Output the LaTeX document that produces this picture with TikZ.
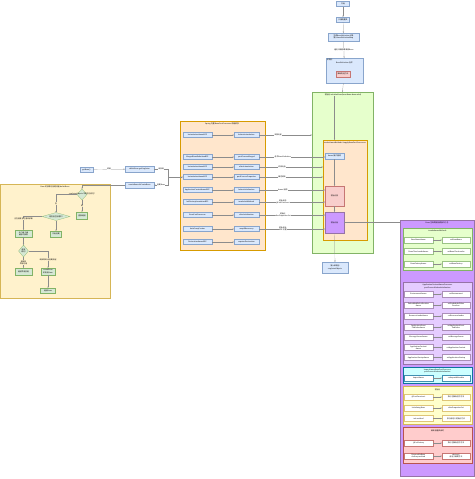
\documentclass[tikz,border=0pt]{standalone}
\usepackage{fontspec}
\setmainfont{Noto Sans CJK SC}
\usetikzlibrary{arrows.meta,shapes.geometric,positioning}

\definecolor{bluef}{HTML}{DAE8FC}
\definecolor{blued}{HTML}{6C8EBF}
\definecolor{orangef}{HTML}{FFE6CC}
\definecolor{oranged}{HTML}{D79B00}
\definecolor{greenf}{HTML}{D5E8D4}
\definecolor{greend}{HTML}{82B366}
\definecolor{limef}{HTML}{E6FFCC}
\definecolor{yellowf}{HTML}{FFF2CC}
\definecolor{yellowd}{HTML}{D6B656}
\definecolor{redf}{HTML}{F8CECC}
\definecolor{redd}{HTML}{B85450}
\definecolor{violetf}{HTML}{CC99FF}
\definecolor{violetd}{HTML}{9673A6}
\definecolor{lavf}{HTML}{E5CCFF}
\definecolor{cyanf}{HTML}{CCFFFF}
\definecolor{cyand}{HTML}{10739E}
\definecolor{lyellowf}{HTML}{FFFFCC}
\definecolor{pinkf}{HTML}{FFCCCC}

\newcommand\diagfont{\fontsize{1.8}{2.2}\selectfont}

\tikzset{
  box/.style={draw=blued!80, fill=bluef, line width=0.2pt, inner sep=0.2pt, align=center, font=\diagfont},
  gbox/.style={box, draw=greend, fill=greenf},
  rbox/.style={box, draw=redd!80, fill=redf},
  vbox/.style={box, draw=violetd, fill=violetf},
  wbox/.style={box, fill=white, draw=#1!80},
  panel/.style={line width=0.25pt, inner sep=0pt},
  conn/.style={draw=black!45, line width=0.2pt},
  arr/.style={conn, -{Stealth[length=1.4pt,width=1.2pt]}},
  lbl/.style={font=\diagfont, inner sep=0.3pt, align=center, fill=white},
  ttl/.style={font=\diagfont, inner sep=0.3pt, align=center},
  dia/.style={diamond, draw=greend, fill=greenf, line width=0.2pt, inner sep=0pt}
}

\begin{document}
\begin{tikzpicture}[x=1pt,y=-1pt]
\useasboundingbox[fill=white] (0,0) rectangle (474,479);

% containers
\node[panel, draw=greend, fill=limef, minimum width=61pt, minimum height=161pt] (greenbox) at (342.5,172.5) {};
\node[panel, draw=oranged, fill=orangef, minimum width=44pt, minimum height=100pt] (orin) at (345,190) {};
\node[panel, draw=oranged, fill=orangef, minimum width=85pt, minimum height=129pt] (bpp) at (222.5,185.5) {};
\node[panel, draw=yellowd, fill=yellowf, minimum width=110pt, minimum height=114pt] (create) at (55,241) {};
\node[panel, draw=violetd, fill=violetf, minimum width=74pt, minimum height=256pt] (ppanel) at (437,348) {};

\node[ttl] (gtitle) at (343,94.5) {初始化 initializeBean(beanName bean mbd)};
\node[ttl] at (345,142.5) {invokeAwareMethods \& applyBeanPostProcessors};
\node[ttl] at (222,123.5) {Spring 内置 BeanPostProcessor 调用顺序};
\node[ttl] at (55,187) {Bean 的获取与创建流程 doGetBean};
\node[ttl] at (437,223) {Bean 生命周期回调接口汇总};

% top chain
\node[box, minimum width=13pt, minimum height=5pt] (start) at (343,4) {开始};
\node[box, minimum width=13pt, minimum height=5pt] (scan) at (343,19.5) {扫描配置类};
\node[box, minimum width=31pt, minimum height=8pt] (parse) at (343.5,37) {生成BeanDefinition对象\\放入beanDefinitionMap};
\node[box, minimum width=37pt, minimum height=25pt] (inst) at (344.5,70.5) {};
\node[ttl, anchor=north west] at (326.5,58.5) {实例化};
\node[ttl] at (344.5,63) {BeanDefinition 合并};
\node[rbox, minimum width=14pt, minimum height=6pt] (ctor) at (343,74) {推断构造方法};

\draw[arr] (start) -- (scan);
\draw[arr] (scan) -- (parse);
\draw[arr] (parse) -- node[lbl] {遍历 非懒加载单例Bean} (inst);
\draw[arr] (inst) -- (greenbox.north);

% initialization steps
\node[box, minimum width=19pt, minimum height=6pt] (aware) at (334.5,156) {Aware 接口回调};
\node[rbox, minimum width=19pt, minimum height=20pt] (before) at (334.5,196) {初始化前};
\node[vbox, minimum width=19pt, minimum height=21pt] (after) at (334.5,222.5) {初始化后};
\node[box, minimum width=26pt, minimum height=11pt] (singleton) at (335,267.5) {放入单例池\\singletonObjects};

\draw[arr] (gtitle.south -| aware) -- (orin.north -| aware);
\draw[arr] (aware) -- (before);
\draw[arr] (before) -- (after);
\draw[arr] (after) -- (singleton);
\draw[conn] (after.east) -- (after.east -| ppanel.west);

% built-in post processors
\foreach \y/\l/\r [count=\i] in {
  135/{InstantiationAwareBPP}/{beforeInstantiation},
  157/{MergedBeanDefinitionBPP}/{postProcessMerged},
  167/{InstantiationAwareBPP}/{afterInstantiation},
  177/{InstantiationAwareBPP}/{postProcessProperties},
  190/{ApplicationContextAwareBPP}/{beforeInitialization},
  202/{InitDestroyAnnotationBPP}/{invokeInitMethods},
  215/{BeanPostProcessor}/{afterInitialization},
  229/{AutoProxyCreator}/{wrapIfNecessary},
  242/{DestructionAwareBPP}/{requiresDestruction}}{
  \node[box, minimum width=29pt, minimum height=5pt] (L\i) at (197.5,\y) {\l};
  \node[box, minimum width=25pt, minimum height=5pt] (R\i) at (246.5,\y) {\r};
  \draw[arr] (L\i) -- (R\i);
}

\foreach \i/\t/\txt in {
  1/greenbox/{实例化前},
  2/aware/{合并BeanDefinition},
  3/orin/{实例化后},
  4/orin/{属性填充},
  5/before/{Aware 回调},
  6/before/{初始化前\\@PostConstruct},
  7/after/{初始化\\afterPropertiesSet},
  8/after/{初始化后\\AOP 代理}}{
  \draw[arr] (R\i) -- node[lbl, pos=0.36] {\txt} (R\i -| \t.west);
}

% getBean entry
\node[box, minimum width=13pt, minimum height=5pt] (getbean) at (86.5,169.5) {getBean()};
\node[box, minimum width=29pt, minimum height=6pt] (doget) at (139.5,169) {doGetBean  getSingleton};
\node[box, minimum width=29pt, minimum height=6pt] (docreate) at (139.5,185) {createBean  doCreateBean};
\coordinate (join) at (168,177);

\draw[arr] (getbean) -- node[lbl] {调用} (doget);
\draw[arr] (doget.east) -- node[lbl, pos=0.5] {未找到} ++(14,0) |- node[lbl, pos=0.75] {创建Bean} (docreate.east);
\draw[arr] (join) -- (L4.west);

% creation flow
\node[dia, minimum width=10pt, minimum height=11pt] (d1) at (82,194.5) {};
\node[ttl] at (82,194.3) {singletonObjects 中是否已存在?};
\node[gbox, minimum width=11pt, minimum height=7pt] (b1) at (82,215.5) {直接返回};
\node[dia, minimum width=28pt, minimum height=8pt] (d2) at (56,216.5) {};
\node[ttl] at (56,216.5) {是否正在创建中?};
\node[gbox, minimum width=11pt, minimum height=6pt] (b2) at (56,234) {开始创建};
\node[gbox, minimum width=17pt, minimum height=7pt] (b3) at (23.5,233.5) {从二级 三级\\缓存中获取};
\node[dia, minimum width=10pt, minimum height=12pt] (d3) at (23.5,251) {};
\node[ttl] at (23.5,251) {获取\\成功?};
\node[gbox, minimum width=17pt, minimum height=7pt] (b4) at (23.5,271.5) {返回早期引用};
\node[gbox, minimum width=14pt, minimum height=7pt] (b5) at (48,271.5) {createBean\\实例化Bean};
\node[gbox, minimum width=15pt, minimum height=5pt] (b6) at (48,290.5) {返回Bean};

\draw[arr] (docreate.west) -| (d1.north);
\draw[arr] (d1) -- node[lbl, fill=yellowf] {是} (b1);
\draw[arr] (d1.west) -| node[lbl, fill=yellowf, pos=0.75] {否} (d2.north);
\draw[arr] (d2) -- (b2);
\draw[arr] (d2.west) -| node[lbl, fill=yellowf, pos=0.6] {正在创建 存在循环依赖} (b3.north);
\draw[arr] (b3) -- (d3);
\draw[arr] (d3) -- node[lbl, fill=yellowf] {获取到\\早期引用} (b4);
\draw[arr] (d3.east) -| node[lbl, fill=yellowf, pos=0.75] {未获取到 走创建流程} (b5.north);
\draw[arr] (b5) -- (b6);

% callback interfaces
\node[panel, draw=greend, fill=limef, minimum width=69pt, minimum height=42pt] (sec1) at (437.5,249) {};
\node[panel, draw=violetd, fill=lavf, minimum width=69pt, minimum height=82pt] (sec2) at (437.5,323) {};
\node[panel, draw=cyand, fill=cyanf, minimum width=69pt, minimum height=16pt] (sec3) at (437.5,375) {};
\node[panel, draw=yellowd, fill=lyellowf, minimum width=69pt, minimum height=38pt] (sec4) at (437.5,405) {};
\node[panel, draw=redd, fill=pinkf, minimum width=69pt, minimum height=36pt] (sec5) at (437.5,445) {};

\node[ttl] at (437.5,231) {invokeAwareMethods};
\node[ttl] at (437.5,286.5) {ApplicationContextAwareProcessor\\postProcessBeforeInitialization};
\node[ttl] at (437.5,371) {ImportAwareBeanPostProcessor\\postProcessBeforeInitialization};
\node[ttl] at (437.5,389.5) {初始化};
\node[ttl] at (437.5,431) {销毁 容器关闭时};

\foreach \y/\l/\r/\c [count=\i] in {
  240/{BeanNameAware}/{setBeanName}/greend,
  251.5/{BeanClassLoaderAware}/{setBeanClassLoader}/greend,
  264/{BeanFactoryAware}/{setBeanFactory}/greend,
  294/{EnvironmentAware}/{setEnvironment}/violetd,
  305/{EmbeddedValueResolver\\Aware}/{setEmbeddedValue\\Resolver}/violetd,
  316/{ResourceLoaderAware}/{setResourceLoader}/violetd,
  327/{ApplicationEvent\\PublisherAware}/{setApplicationEvent\\Publisher}/violetd,
  337.5/{MessageSourceAware}/{setMessageSource}/violetd,
  347.5/{ApplicationContext\\Aware}/{setApplicationContext}/violetd,
  357.5/{ApplicationStartupAware}/{setApplicationStartup}/violetd,
  378/{ImportAware}/{setImportMetadata}/cyand,
  397/{@PostConstruct}/{执行注解标注的方法}/yellowd,
  408/{InitializingBean}/{afterPropertiesSet}/yellowd,
  418.5/{init-method}/{执行自定义初始化方法}/yellowd,
  443/{@PreDestroy}/{执行注解标注的方法}/redd,
  456/{DisposableBean\\destroy-method}/{destroy()\\自定义销毁方法}/redd}{
  \node[wbox=\c, minimum width=29pt, minimum height=6pt] (A\i) at (418.5,\y) {\l};
  \node[wbox=\c, minimum width=28pt, minimum height=6pt] (B\i) at (456,\y) {\r};
  \draw[arr] (A\i) -- (B\i);
}
\end{tikzpicture}
\end{document}
